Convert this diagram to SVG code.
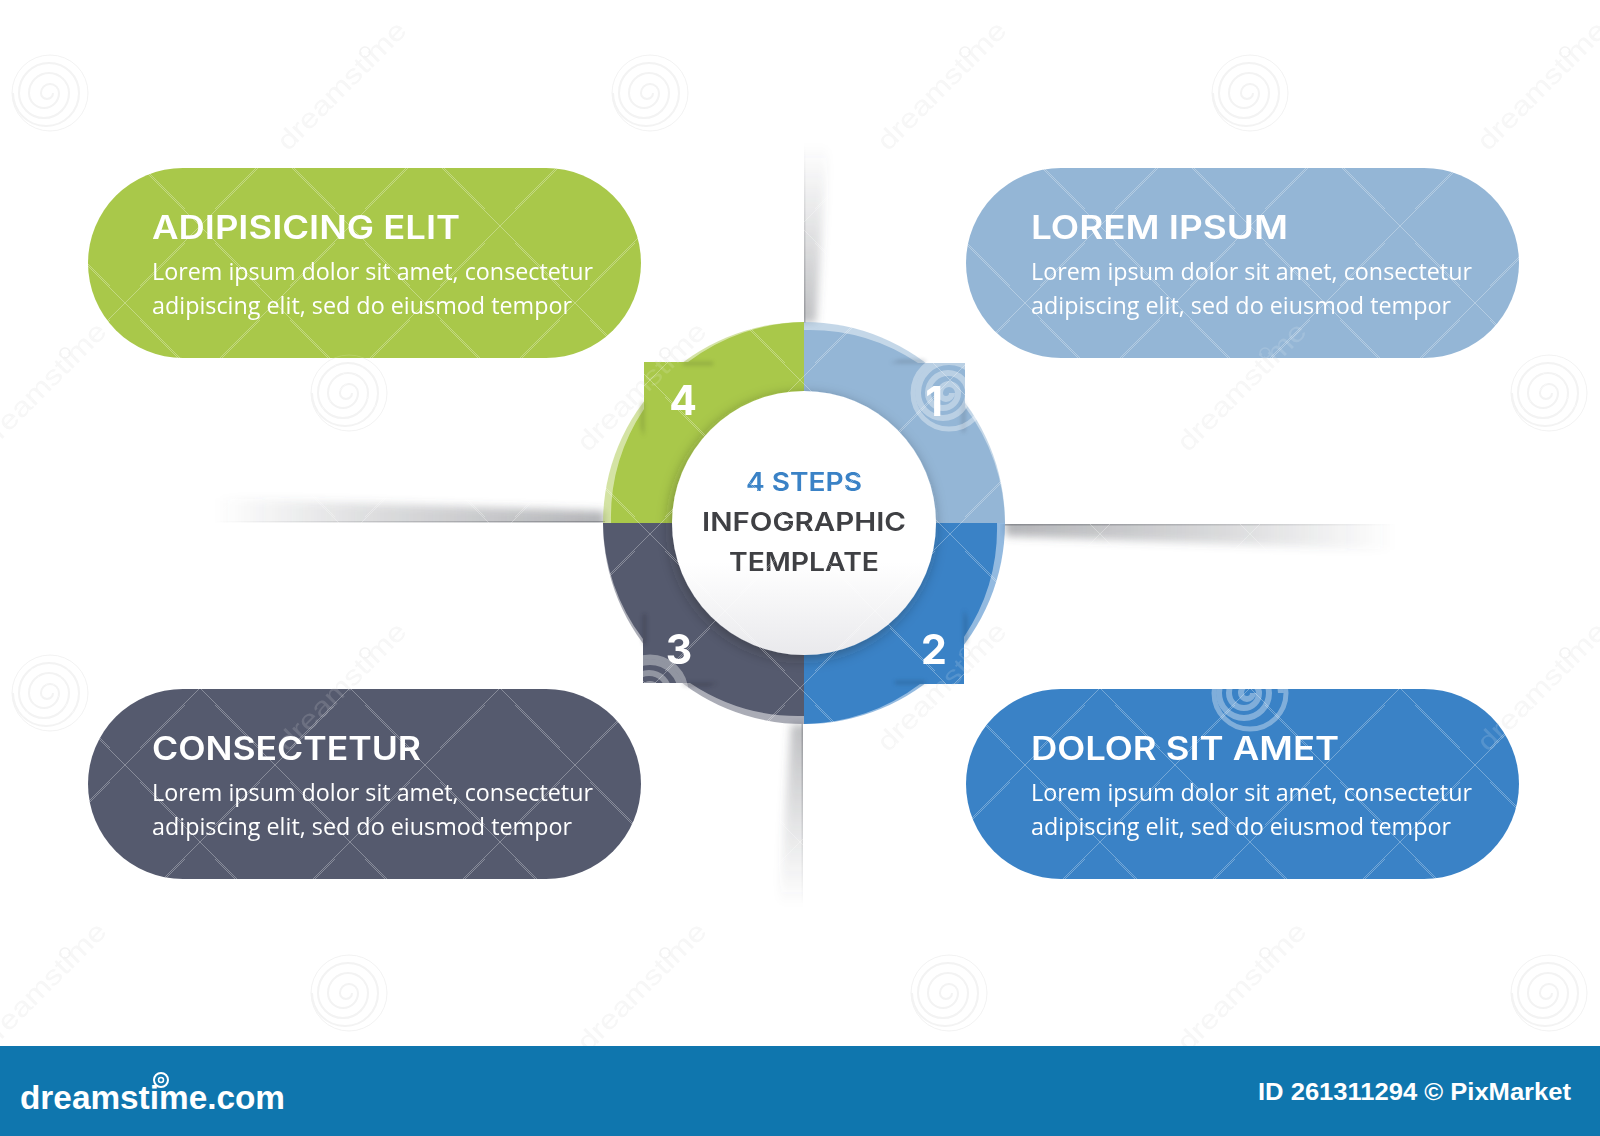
<svg xmlns="http://www.w3.org/2000/svg" xmlns:xlink="http://www.w3.org/1999/xlink" width="1600" height="1136" viewBox="0 0 1600 1136">
<style>
.t{font-family:"Inter","Liberation Sans",sans-serif;font-weight:600;font-size:32px;fill:#fff}
.b{font-family:"Open Sans","Liberation Sans",sans-serif;font-size:23.5px;fill:#fff}
.n{font-family:"Inter","Liberation Sans",sans-serif;font-weight:700;font-size:41px;fill:#fff;text-anchor:middle}
.c{font-family:"Inter","Liberation Sans",sans-serif;font-weight:600;font-size:26px;text-anchor:middle;fill:#3f4044}
.wt{font-family:"Liberation Sans",sans-serif;font-size:27px;text-anchor:middle}
.under{stroke:#e4e4e4;fill:#ececec;opacity:.5}
.over{stroke:#fff;fill:#fff;opacity:.14}
.strong{stroke:#fff;fill:#fff;opacity:.36}
</style>
<defs>
<g id="spiral" fill="none" stroke-width="2"><path fill="none" d="M3 0A6 6 0 0 1-9 0A9 9 0 0 1 9 0A15 15 0 0 1-21 0A20 20 0 0 1 19 0A25 25 0 0 1-31 0A30 30 0 0 1 29 0A33 33 0 0 1-37 0"/><circle r="38" fill="none" stroke-width="1"/></g>
<g id="spiralStrong"><path fill="none" stroke-width="6" d="M3 0A6 6 0 0 1-9 0A9 9 0 0 1 9 0A15 15 0 0 1-21 0A20 20 0 0 1 19 0A25 25 0 0 1-31 0A30 30 0 0 1 31 0"/><circle r="36" fill="none" stroke-width="5"/></g>
<g id="mark"><text class="wt" stroke="none" transform="rotate(-45)" textLength="170" lengthAdjust="spacingAndGlyphs">dreamstime</text><circle cx="17" cy="-40" r="5" fill="none" stroke-width="1.5"/></g>
<g id="wm">
<use href="#spiral" x="50" y="93"/><use href="#spiral" x="650" y="93"/><use href="#spiral" x="1250" y="93"/>
<use href="#spiral" x="349" y="393"/><use href="#spiral" x="1549" y="393"/>
<use href="#spiral" x="50" y="693"/><use href="#spiral" x="349" y="993"/><use href="#spiral" x="949" y="993"/><use href="#spiral" x="1549" y="993"/>
<use href="#mark" x="348" y="92"/><use href="#mark" x="948" y="92"/><use href="#mark" x="1548" y="92"/>
<use href="#mark" x="48" y="393"/><use href="#mark" x="648" y="393"/><use href="#mark" x="1248" y="393"/>
<use href="#mark" x="348" y="693"/><use href="#mark" x="948" y="693"/><use href="#mark" x="1548" y="693"/>
<use href="#mark" x="48" y="993"/><use href="#mark" x="648" y="993"/><use href="#mark" x="1248" y="993"/>
</g>
<g id="wmStrong"><use href="#spiralStrong" x="949" y="393"/><use href="#spiralStrong" x="650" y="693"/><use href="#spiralStrong" x="1250" y="693"/></g>
<pattern id="mesh" width="150" height="154" patternUnits="userSpaceOnUse" patternTransform="translate(1025 765)">
<g stroke="#fff" stroke-opacity=".3" stroke-width="1" fill="none">
<path d="M15 17L135 137M135 17L15 137"/>
<path d="M0 0L60 60M150 0L90 60M0 154L60 94M150 154L90 94"/>
</g></pattern>
<path id="quad" d="M804 523L804 330A196 196 0 0 1 918 363L965 363L965 407A196 196 0 0 1 1005 523Z"/>
<path id="wedge" d="M804 523L804 322A201 201 0 0 1 1005 523Z"/>
<path id="nick" d="M890 363L925 363L925 360L900 360ZM965 402L965 432L962 432L962 402Z"/>
<filter id="blur6" x="-60%" y="-30%" width="220%" height="160%"><feGaussianBlur stdDeviation="4"/></filter>
<filter id="blur6h" x="-10%" y="-100%" width="120%" height="300%"><feGaussianBlur stdDeviation="4"/></filter>
<filter id="blur2" x="-50%" y="-50%" width="200%" height="200%"><feGaussianBlur stdDeviation="2"/></filter>
<filter id="disc" x="-20%" y="-20%" width="140%" height="140%"><feDropShadow dx="-2" dy="4" stdDeviation="7" flood-color="#20222c" flood-opacity=".38"/></filter>
<linearGradient id="gDisc" x1="0" y1="0" x2="0" y2="1"><stop offset="0" stop-color="#fff"/><stop offset=".65" stop-color="#fff"/><stop offset="1" stop-color="#e9e9ec"/></linearGradient>
<linearGradient id="sT" gradientUnits="userSpaceOnUse" x1="0" y1="145" x2="0" y2="323"><stop offset="0" stop-color="#55585f" stop-opacity="0"/><stop offset=".4" stop-color="#55585f" stop-opacity=".14"/><stop offset="1" stop-color="#55585f" stop-opacity=".38"/></linearGradient>
<linearGradient id="sB" gradientUnits="userSpaceOnUse" x1="0" y1="905" x2="0" y2="724"><stop offset="0" stop-color="#55585f" stop-opacity="0"/><stop offset=".4" stop-color="#55585f" stop-opacity=".14"/><stop offset="1" stop-color="#55585f" stop-opacity=".38"/></linearGradient>
<linearGradient id="sL" gradientUnits="userSpaceOnUse" x1="215" y1="0" x2="605" y2="0"><stop offset="0" stop-color="#55585f" stop-opacity="0"/><stop offset=".4" stop-color="#55585f" stop-opacity=".2"/><stop offset="1" stop-color="#55585f" stop-opacity=".45"/></linearGradient>
<linearGradient id="sR" gradientUnits="userSpaceOnUse" x1="1395" y1="0" x2="1005" y2="0"><stop offset="0" stop-color="#55585f" stop-opacity="0"/><stop offset=".4" stop-color="#55585f" stop-opacity=".2"/><stop offset="1" stop-color="#55585f" stop-opacity=".45"/></linearGradient>
<clipPath id="cT"><rect x="804" y="140" width="50" height="190"/></clipPath>
<clipPath id="cB"><rect x="750" y="718" width="53" height="190"/></clipPath>
<clipPath id="cL"><rect x="205" y="480" width="405" height="42.500"/></clipPath>
<clipPath id="cR"><rect x="1000" y="524" width="400" height="40"/></clipPath>
</defs>

<rect width="1600" height="1136" fill="#fff"/>
<use href="#wm" class="under"/>

<g id="connectors">
<g clip-path="url(#cT)"><path d="M792 145L828 145L816 323L792 323Z" fill="url(#sT)" filter="url(#blur6)"/><rect x="804" y="145" width="1.500" height="178" fill="url(#sT)"/></g>
<g clip-path="url(#cB)"><path d="M815 905L779 905L791 724L815 724Z" fill="url(#sB)" filter="url(#blur6)"/><rect x="801.500" y="724" width="1.500" height="181" fill="url(#sB)"/></g>
<g clip-path="url(#cL)"><path d="M215 535L215 498L605 511L605 535Z" fill="url(#sL)" filter="url(#blur6h)"/><rect x="215" y="521" width="390" height="1.500" fill="url(#sL)"/></g>
<g clip-path="url(#cR)"><path d="M1395 512L1395 550L1005 536L1005 512Z" fill="url(#sR)" filter="url(#blur6h)"/><rect x="1005" y="524" width="390" height="1.500" fill="url(#sR)"/></g>
</g>

<g id="pill-4"><rect x="88" y="168" width="553" height="190" rx="95" fill="#a9c84a"/>
<text class="t" x="152" y="239" textLength="308" lengthAdjust="spacingAndGlyphs">ADIPISICING ELIT</text>
<text class="b" x="152" y="280" textLength="441" lengthAdjust="spacingAndGlyphs">Lorem ipsum dolor sit amet, consectetur</text>
<text class="b" x="152" y="314" textLength="420" lengthAdjust="spacingAndGlyphs">adipiscing elit, sed do eiusmod tempor</text></g>
<g id="pill-1"><rect x="966" y="168" width="553" height="190" rx="95" fill="#94b6d6"/>
<text class="t" x="1031" y="239" textLength="257" lengthAdjust="spacingAndGlyphs">LOREM IPSUM</text>
<text class="b" x="1031" y="280" textLength="441" lengthAdjust="spacingAndGlyphs">Lorem ipsum dolor sit amet, consectetur</text>
<text class="b" x="1031" y="314" textLength="420" lengthAdjust="spacingAndGlyphs">adipiscing elit, sed do eiusmod tempor</text></g>
<g id="pill-3"><rect x="88" y="689" width="553" height="190" rx="95" fill="#555a6e"/>
<text class="t" x="152" y="760" textLength="269" lengthAdjust="spacingAndGlyphs">CONSECTETUR</text>
<text class="b" x="152" y="801" textLength="441" lengthAdjust="spacingAndGlyphs">Lorem ipsum dolor sit amet, consectetur</text>
<text class="b" x="152" y="835" textLength="420" lengthAdjust="spacingAndGlyphs">adipiscing elit, sed do eiusmod tempor</text></g>
<g id="pill-2"><rect x="966" y="689" width="553" height="190" rx="95" fill="#3a82c6"/>
<text class="t" x="1031" y="760" textLength="308" lengthAdjust="spacingAndGlyphs">DOLOR SIT AMET</text>
<text class="b" x="1031" y="801" textLength="441" lengthAdjust="spacingAndGlyphs">Lorem ipsum dolor sit amet, consectetur</text>
<text class="b" x="1031" y="835" textLength="420" lengthAdjust="spacingAndGlyphs">adipiscing elit, sed do eiusmod tempor</text></g>

<g id="step-1"><g fill="#94b6d6"><use href="#wedge" opacity=".55"/><use href="#quad"/></g><use href="#nick" fill="#4b5a6b" opacity=".35" filter="url(#blur2)"/></g>
<g id="step-2" transform="rotate(90 804 523)"><g fill="#3a82c6"><use href="#wedge" opacity=".55"/><use href="#quad"/></g><use href="#nick" fill="#1d3f60" opacity=".35" filter="url(#blur2)"/></g>
<g id="step-3" transform="rotate(180 804 523)"><g fill="#555a6e"><use href="#wedge" opacity=".5"/><use href="#quad"/></g><use href="#nick" fill="#22242e" opacity=".35" filter="url(#blur2)"/></g>
<g id="step-4" transform="rotate(270 804 523)"><g fill="#a9c84a"><use href="#wedge" opacity=".5"/><use href="#quad"/></g><use href="#nick" fill="#56682a" opacity=".35" filter="url(#blur2)"/></g>

<g id="center"><circle cx="804" cy="523" r="132" fill="url(#gDisc)" filter="url(#disc)"/>
<text class="c" x="804" y="491" style="fill:#3a82c6" textLength="116" lengthAdjust="spacingAndGlyphs">4 STEPS</text>
<text class="c" x="804" y="531" textLength="204" lengthAdjust="spacingAndGlyphs">INFOGRAPHIC</text>
<text class="c" x="804" y="571" textLength="150" lengthAdjust="spacingAndGlyphs">TEMPLATE</text></g>

<g id="numbers"><text class="n" x="934" y="416">1</text><text class="n" x="934" y="664">2</text><text class="n" x="679" y="664">3</text><text class="n" x="683" y="415">4</text></g>

<rect id="watermark-mesh" y="140" width="1600" height="780" fill="url(#mesh)"/>
<use href="#wm" class="over"/>
<use href="#wmStrong" class="strong"/>

<g id="footer"><rect y="1046" width="1600" height="90" fill="#0f76ae"/>
<text x="20" y="1109" font-family="'Liberation Sans',sans-serif" font-weight="700" font-size="34" fill="#fff" textLength="265" lengthAdjust="spacingAndGlyphs">dreamstime.com</text>
<circle cx="161" cy="1080" r="7" fill="none" stroke="#fff" stroke-width="2"/><circle cx="161" cy="1080" r="2.500" fill="none" stroke="#fff" stroke-width="1.500"/>
<text x="1571" y="1100" text-anchor="end" font-family="'Liberation Sans',sans-serif" font-weight="700" font-size="24" fill="#fff" textLength="313" lengthAdjust="spacingAndGlyphs">ID 261311294 © PixMarket</text></g>
</svg>
